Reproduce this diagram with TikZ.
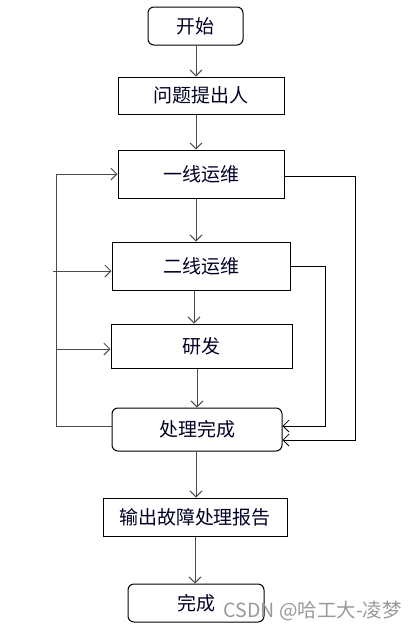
\documentclass[tikz,border=0pt]{standalone}
\usepackage{fontspec}
\newfontfamily\cjk{Noto Sans CJK SC}
\usetikzlibrary{arrows.meta,calc}
\tikzset{
  box/.style={draw=black, line width=1pt, fill=white, inner sep=0pt, font=\cjk\fontsize{19}{22}\selectfont, text=black!85!blue},
  term/.style={box, rounded corners=6pt},
  arr/.style={draw=black!70, line width=0.9pt, -{Straight Barb[length=6pt,width=12pt,line width=0.9pt]}},
  ln/.style={draw=black, line width=0.8pt, -{Straight Barb[length=6pt,width=12pt,line width=0.8pt]}}
}
\begin{document}
\begin{tikzpicture}[x=1pt,y=-1pt]
\useasboundingbox (0,0) rectangle (418,633);
\node[term, minimum width=95pt, minimum height=38pt] (kaishi) at (195.5,26) {开始};
\node[box, minimum width=166pt, minimum height=37pt] (wenti) at (201,95.5) {问题提出人};
\node[box, minimum width=166pt, minimum height=48pt] (yixian) at (201,174) {一线运维};
\node[box, minimum width=178pt, minimum height=48pt] (erxian) at (201,266) {二线运维};
\node[box, minimum width=181pt, minimum height=44pt] (yanfa) at (201.5,346) {研发};
\node[term, minimum width=170pt, minimum height=43pt] (chuli) at (197,429.5) {处理完成};
\node[box, minimum width=184pt, minimum height=38pt] (shuchu) at (195,517) {输出故障处理报告};
\node[term, minimum width=136pt, minimum height=38pt] (wancheng) at (196,603) {完成};
\node[font=\cjk\fontsize{19.5}{22}\selectfont, text=black!40, inner sep=0pt, anchor=east] (wm) at (402,611) {CSDN @哈工大-凌梦};

\coordinate (L1) at (56,174);
\coordinate (L2) at (53,271);
\coordinate (L3) at (56,349);
\coordinate (R1) at (355,440);
\coordinate (R2) at (325,426);

\draw[arr] ([xshift=0.5pt]kaishi.south) -- ([xshift=0.5pt]kaishi.south |- wenti.north);
\draw[arr] ([xshift=-5pt]wenti.south) -- ([xshift=-5pt]wenti.south |- yixian.north);
\draw[arr] ([xshift=-5pt]yixian.south) -- ([xshift=-5pt]yixian.south |- erxian.north);
\draw[arr] ([xshift=-7pt]erxian.south) -- ([xshift=-7pt]erxian.south |- yanfa.north);
\draw[arr] ([xshift=-4.5pt]yanfa.south) -- ([xshift=-4.5pt]yanfa.south |- chuli.north);
\draw[arr] ([xshift=-1pt]chuli.south) -- ([xshift=-1pt]chuli.south |- shuchu.north);
\draw[arr] (shuchu.south) -- (shuchu.south |- wancheng.north);

\draw[arr] ([yshift=3.5pt]chuli.west) -| (L1) -- (yixian.west);
\draw[arr] (L2) -- (L2 -| erxian.west);
\draw[arr] (L3) -- (L3 -| yanfa.west);

\draw[ln] ([yshift=-2pt]yixian.east) -- ([yshift=-2pt]yixian.east -| R1) -- (R1) -- (R1 -| chuli.east);
\draw[ln] (erxian.east) -- (erxian.east -| R2) -- (R2) -- (R2 -| chuli.east);
\end{tikzpicture}
\end{document}
